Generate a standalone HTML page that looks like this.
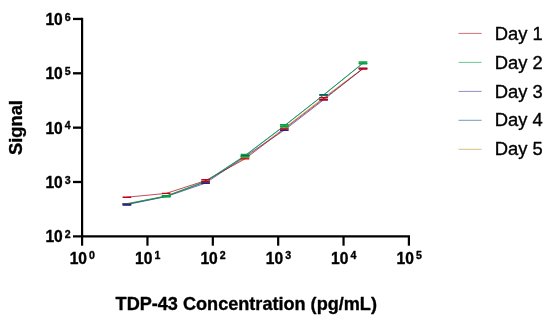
<!DOCTYPE html>
<html><head><meta charset="utf-8"><title>TDP-43 chart</title>
<style>
html,body{margin:0;padding:0;background:#fff;}
body{width:550px;height:322px;overflow:hidden;}
svg{display:block;}
text{font-family:"Liberation Sans",Arial,sans-serif;fill:#000;}
.b{font-weight:bold;stroke:#000;stroke-width:0.35px;stroke-linejoin:round;}
.l{stroke:#000;stroke-width:0.35px;stroke-linejoin:round;}
</style></head><body>
<svg width="550" height="322" viewBox="0 0 550 322">
<rect width="550" height="322" fill="#fff"/>

<g fill="none" stroke-width="1" stroke-opacity="0.75" stroke-linejoin="round">
<polyline points="126.9,204.0 166.2,195.8 205.6,181.4 245.0,157.8 284.3,128.1 323.6,97.7 363.0,68.4" stroke="#b8962e"/>
<polyline points="126.9,204.6 166.2,196.6 205.6,183.1 245.0,156.5 284.3,130.2 323.6,99.8 363.0,68.5" stroke="#4b3f9a"/>
<polyline points="126.9,197.2 166.2,193.4 205.6,180.6 245.0,158.9 284.3,128.9 323.6,98.8 363.0,68.7" stroke="#b01020"/>
<polyline points="126.9,204.2 166.2,196.3 205.6,181.8 245.0,155.8 284.3,126.0 323.6,94.8 363.0,63.3" stroke="#0f5f85"/>
<polyline points="126.9,203.6 166.2,196.2 205.6,181.3 245.0,155.5 284.3,125.7 323.6,95.2 363.0,62.9" stroke="#0ba14b"/>
</g>
<g stroke-width="1.4" fill="none">
<path d="M122.6 203.6h8.6M161.9 195.6h8.6M161.9 196.8h8.6M166.2 195.6V196.8M201.3 181.3h8.6M240.7 154.5h8.6M240.7 156.5h8.6M245.0 154.5V156.5M280.0 124.6h8.6M280.0 126.8h8.6M284.3 124.6V126.8M319.3 95.2h8.6M358.7 62.0h8.6M358.7 63.8h8.6M363.0 62.0V63.8" stroke="#08a045"/>
<path d="M122.6 203.9h8.6M122.6 204.5h8.6M126.9 203.9V204.5M201.3 181.8h8.6M240.7 155.8h8.6M319.3 94.7h8.6M319.3 94.9h8.6M323.6 94.7V94.9" stroke="#0d5a6e"/>
<path d="M161.9 196.3h8.6M280.0 126.0h8.6M358.7 63.3h8.6" stroke="#08a045"/>
<path d="M122.6 204.0h8.6M201.3 181.4h8.6M240.7 157.8h8.6M280.0 128.1h8.6M319.3 97.7h8.6M358.7 68.4h8.6" stroke="#a8861e"/>
<path d="M161.9 195.8h8.6" stroke="#08a045"/>
<path d="M122.6 204.2h8.6M122.6 205.0h8.6M126.9 204.2V205.0M201.3 182.9h8.6M201.3 183.3h8.6M205.6 182.9V183.3M280.0 130.0h8.6M280.0 130.4h8.6M284.3 130.0V130.4M319.3 99.8h8.6M358.7 68.5h8.6" stroke="#23238a"/>
<path d="M161.9 196.6h8.6M240.7 156.5h8.6" stroke="#08a045"/>
<path d="M122.6 197.2h8.6M161.9 193.4h8.6M201.3 179.6h8.6M201.3 181.6h8.6M205.6 179.6V181.6M240.7 158.9h8.6M280.0 128.9h8.6M319.3 97.6h8.6M319.3 99.9h8.6M323.6 97.6V99.9M358.7 68.4h8.6M358.7 69.0h8.6M363.0 68.4V69.0" stroke="#c4001e"/>
</g>
<g stroke="#000" fill="none" stroke-linecap="butt">
<path d="M82.1 17.80V245.7" stroke-width="2.2"/>
<path d="M73 236.35H410" stroke-width="2.4"/>
<path d="M73 18.95H82.1" stroke-width="2.3"/>
<path d="M73 73.30H82.1" stroke-width="2.3"/>
<path d="M73 127.65H82.1" stroke-width="2.3"/>
<path d="M73 182.00H82.1" stroke-width="2.3"/>
<path d="M147.46 236.35V245.7" stroke-width="2.2"/>
<path d="M212.82 236.35V245.7" stroke-width="2.2"/>
<path d="M278.18 236.35V245.7" stroke-width="2.2"/>
<path d="M343.54 236.35V245.7" stroke-width="2.2"/>
<path d="M408.90 236.35V245.7" stroke-width="2.2"/>
</g>
<g class="b">
<text font-size="15.6" x="45.4" y="24.9">10</text><text font-size="10.6" x="64.8" y="20.5">6</text>
<text font-size="15.6" x="45.4" y="79.3">10</text><text font-size="10.6" x="64.8" y="74.9">5</text>
<text font-size="15.6" x="45.4" y="133.7">10</text><text font-size="10.6" x="64.8" y="129.2">4</text>
<text font-size="15.6" x="45.4" y="188.0">10</text><text font-size="10.6" x="64.8" y="183.6">3</text>
<text font-size="15.6" x="45.4" y="242.3">10</text><text font-size="10.6" x="64.8" y="237.9">2</text>
<text font-size="15.6" x="69.7" y="263.7">10</text><text font-size="10.6" x="89.1" y="259.3">0</text>
<text font-size="15.6" x="135.1" y="263.7">10</text><text font-size="10.6" x="154.5" y="259.3">1</text>
<text font-size="15.6" x="200.4" y="263.7">10</text><text font-size="10.6" x="219.8" y="259.3">2</text>
<text font-size="15.6" x="265.8" y="263.7">10</text><text font-size="10.6" x="285.2" y="259.3">3</text>
<text font-size="15.6" x="331.1" y="263.7">10</text><text font-size="10.6" x="350.5" y="259.3">4</text>
<text font-size="15.6" x="396.5" y="263.7">10</text><text font-size="10.6" x="415.9" y="259.3">5</text>
</g>
<text class="b" font-size="18.1" x="115.6" y="309.8">TDP-43 Concentration (pg/mL)</text>
<text class="b" font-size="18.3" transform="translate(22 154.9) rotate(-90)">Signal</text>
<g font-size="18" class="l">
<line x1="458.5" x2="481.6" y1="33.4" y2="33.4" stroke="#b01020" stroke-width="1" stroke-opacity="0.6"/>
<text transform="translate(494.7 39.5) scale(1.02 1)">Day 1</text>
<line x1="458.5" x2="481.6" y1="62.4" y2="62.4" stroke="#0ba14b" stroke-width="1" stroke-opacity="0.6"/>
<text transform="translate(494.7 68.5) scale(1.02 1)">Day 2</text>
<line x1="458.5" x2="481.6" y1="91.4" y2="91.4" stroke="#4b3f9a" stroke-width="1" stroke-opacity="0.6"/>
<text transform="translate(494.7 97.5) scale(1.02 1)">Day 3</text>
<line x1="458.5" x2="481.6" y1="120.3" y2="120.3" stroke="#0f5f85" stroke-width="1" stroke-opacity="0.6"/>
<text transform="translate(494.7 126.4) scale(1.02 1)">Day 4</text>
<line x1="458.5" x2="481.6" y1="149.3" y2="149.3" stroke="#b8962e" stroke-width="1" stroke-opacity="0.6"/>
<text transform="translate(494.7 155.4) scale(1.02 1)">Day 5</text>
</g>
</svg></body></html>
